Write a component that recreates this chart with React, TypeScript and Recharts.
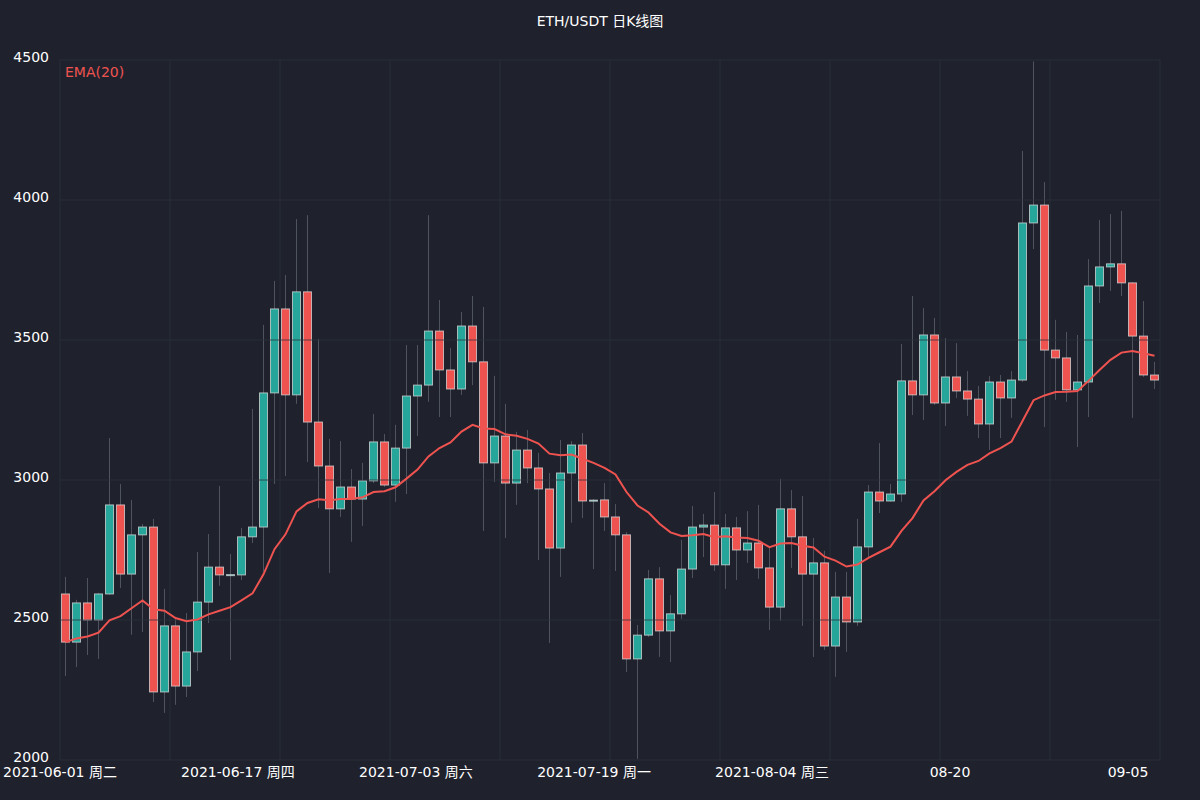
import { Bar, ComposedChart, Line, ReferenceLine, XAxis, YAxis } from 'recharts';

// daily candles
const OPEN = [
  2593, 2421, 2561, 2500, 2593, 2911, 2664, 2804, 2832, 2243,
  2479, 2264, 2386, 2564, 2689, 2661, 2661, 2797, 2832, 3311,
  3611, 3304, 3672, 3207, 3050, 2897, 2975, 2932, 2997, 3136,
  2982, 3114, 3300, 3339, 3532, 3393, 3325, 3550, 3422, 3061,
  3157, 2989, 3107, 3043, 2968, 2757, 3025, 3125, 2925, 2929,
  2868, 2804, 2361, 2446, 2647, 2461, 2522, 2682, 2832, 2839,
  2697, 2829, 2750, 2775, 2686, 2546, 2897, 2797, 2664, 2704,
  2407, 2582, 2493, 2761, 2957, 2925, 2950, 3354, 3304, 3518,
  3275, 3368, 3318, 3289, 3200, 3350, 3293, 3357, 3918, 3982,
  3464, 3436, 3322, 3350, 3693, 3761, 3772, 3704, 3514, 3375,
];
const HIGH = [
  2654, 2572, 2650, 2597, 3150, 2986, 2929, 2843, 2861, 2611,
  2511, 2525, 2743, 2807, 2979, 2736, 2829, 3254, 3554, 3711,
  3732, 3932, 3946, 3504, 3147, 3139, 3039, 3061, 3236, 3164,
  3197, 3482, 3482, 3946, 3643, 3472, 3600, 3657, 3618, 3372,
  3272, 3172, 3179, 3097, 3025, 3143, 3139, 3168, 2932, 2989,
  2914, 2814, 2482, 2679, 2689, 2589, 2786, 2907, 2879, 2957,
  2879, 2868, 2889, 2911, 2757, 3004, 2964, 2943, 2793, 2747,
  2672, 2672, 2861, 2982, 3132, 2986, 3486, 3657, 3614, 3579,
  3507, 3489, 3389, 3336, 3371, 3375, 3389, 4175, 4495, 4064,
  3572, 3529, 3518, 3789, 3929, 3950, 3961, 3706, 3639, 3422,
];
const LOW = [
  2300, 2332, 2375, 2361, 2590, 2614, 2447, 2457, 2207, 2168,
  2197, 2225, 2318, 2489, 2622, 2357, 2643, 2775, 2672, 2986,
  3014, 3272, 3064, 2900, 2668, 2868, 2779, 2836, 2989, 2975,
  2922, 2950, 3157, 3279, 3225, 3225, 3304, 3339, 2818, 2993,
  2793, 2911, 2989, 2714, 2418, 2654, 2847, 2864, 2682, 2818,
  2675, 2314, 2004, 2439, 2368, 2350, 2504, 2650, 2725, 2675,
  2611, 2643, 2704, 2647, 2464, 2497, 2686, 2479, 2368, 2393,
  2297, 2386, 2479, 2725, 2882, 2922, 2922, 3232, 3214, 3268,
  3193, 3293, 3229, 3150, 3107, 3150, 3222, 3350, 3825, 3189,
  3286, 3279, 3118, 3225, 3632, 3675, 3657, 3222, 3368, 3325,
];
const CLOSE = [
  2421, 2561, 2500, 2593, 2911, 2664, 2804, 2832, 2243, 2479,
  2264, 2386, 2564, 2689, 2661, 2662, 2797, 2832, 3311, 3611,
  3304, 3672, 3207, 3050, 2897, 2975, 2932, 2997, 3136, 2982,
  3114, 3300, 3339, 3532, 3393, 3325, 3550, 3422, 3061, 3157,
  2989, 3107, 3043, 2968, 2757, 3025, 3125, 2925, 2928, 2868,
  2804, 2361, 2446, 2647, 2461, 2522, 2682, 2832, 2839, 2697,
  2829, 2750, 2775, 2686, 2546, 2897, 2797, 2664, 2704, 2407,
  2582, 2493, 2761, 2957, 2925, 2950, 3354, 3304, 3518, 3275,
  3368, 3318, 3289, 3200, 3350, 3293, 3357, 3918, 3982, 3464,
  3436, 3322, 3350, 3693, 3761, 3772, 3704, 3514, 3375, 3357,
];
// EMA(20) line as it appears on the chart
const EMA20 = [
  2421, 2434, 2441, 2455, 2499, 2514, 2542, 2570, 2538, 2533,
  2507, 2496, 2502, 2520, 2533, 2546, 2570, 2595, 2663, 2753,
  2806, 2888, 2918, 2931, 2928, 2932, 2932, 2938, 2957, 2960,
  2974, 3005, 3037, 3084, 3114, 3134, 3173, 3197, 3184, 3182,
  3163, 3158, 3147, 3130, 3094, 3088, 3091, 3076, 3061, 3043,
  3020, 2957, 2909, 2884, 2844, 2813, 2800, 2803, 2807, 2796,
  2799, 2795, 2793, 2783, 2760, 2773, 2775, 2765, 2759, 2726,
  2712, 2691, 2698, 2722, 2742, 2762, 2818, 2864, 2927, 2960,
  2999, 3029, 3054, 3068, 3095, 3114, 3137, 3211, 3285, 3302,
  3314, 3315, 3318, 3354, 3393, 3429, 3455, 3461, 3453, 3444,
];

const Y_TICKS = [2000, 2500, 3000, 3500, 4000, 4500];
const X_TICK_LABELS = [
  '2021-06-01 周二',
  '2021-06-17 周四',
  '2021-07-03 周六',
  '2021-07-19 周一',
  '2021-08-04 周三',
  '08-20',
  '09-05',
];
const X_TICK_POS = [-0.5, 15.68, 31.86, 48.05, 64.23, 80.41, 96.59];
const GRID_X = [-0.5, 9.5, 19.5, 29.5, 39.5, 49.5, 59.5, 69.5, 79.5, 89.5, 99.5];

const BG = '#1f222d';
const GRID = 'rgba(44,48,60,0.75)';
const UP = '#26a69a';
const DOWN = '#ef5350';
const WICK = '#4f535e';
const FONT = "'DejaVu Sans', 'Noto Sans CJK SC', sans-serif";

const data = OPEN.map((open, i) => ({
  i,
  open,
  high: HIGH[i],
  low: LOW[i],
  close: CLOSE[i],
  ema: EMA20[i],
  range: [LOW[i], HIGH[i]],
}));

// eslint-disable-next-line @typescript-eslint/no-explicit-any
function Candle(props: any) {
  const { x, y, width, height, payload } = props;
  if (!payload) return null;
  const { open, close, high, low } = payload;
  const top0 = Math.min(y, y + height);
  const h = Math.abs(height);
  const span = high - low || 1;
  const toY = (v: number) => top0 + ((high - v) / span) * h;
  const cx = x + width / 2;
  const bodyTop = toY(Math.max(open, close));
  const bodyBottom = toY(Math.min(open, close));
  const up = close >= open;
  return (
    <g>
      <line x1={cx} x2={cx} y1={top0} y2={top0 + h} stroke={WICK} strokeWidth={1} />
      <rect
        x={x + 1.5}
        y={bodyTop}
        width={width - 3}
        height={Math.max(bodyBottom - bodyTop, 1)}
        fill={up ? UP : DOWN}
        stroke="rgba(225,225,225,0.7)"
        strokeWidth={1}
      />
    </g>
  );
}

// eslint-disable-next-line @typescript-eslint/no-explicit-any
function YTick({ y, payload }: any) {
  return (
    <text x={49} y={y - 3} textAnchor="end" dominantBaseline="central" fill="#ffffff" fontSize={14} fontFamily={FONT}>
      {payload.value}
    </text>
  );
}

// eslint-disable-next-line @typescript-eslint/no-explicit-any
function XTick({ x, payload, index }: any) {
  return (
    <text x={x} y={772} textAnchor="middle" dominantBaseline="central" fill="#ffffff" fontSize={14} fontFamily={FONT}>
      {X_TICK_LABELS[index] ?? payload.value}
    </text>
  );
}

export default function App() {
  return (
    <div style={{ position: 'absolute', left: 0, top: 0, width: 1200, height: 800, background: BG, fontFamily: FONT }}>
      <div style={{ position: 'absolute', top: 12, left: 0, width: 1200, textAlign: 'center', color: '#ffffff', fontSize: 14, lineHeight: '18px' }}>
        ETH/USDT 日K线图
      </div>
      <ComposedChart
        width={1200}
        height={800}
        data={data}
        margin={{ top: 60, right: 40, bottom: 10, left: 0 }}
        barCategoryGap={0}
        barGap={0}
      >
        <XAxis dataKey="i" type="category" hide height={0} />
        <XAxis
          xAxisId="t"
          dataKey="i"
          type="number"
          domain={[-0.5, 99.5]}
          ticks={X_TICK_POS}
          tick={<XTick />}
          tickLine={false}
          axisLine={false}
          height={30}
          allowDataOverflow
          interval={0}
        />
        <YAxis
          type="number"
          domain={[2000, 4500]}
          ticks={Y_TICKS}
          width={60}
          axisLine={false}
          tickLine={false}
          tick={<YTick />}
          allowDataOverflow
        />
        {GRID_X.map((gx) => (
          <ReferenceLine key={`gx${gx}`} xAxisId="t" x={gx} stroke={GRID} strokeWidth={1} />
        ))}
        <Bar dataKey="range" shape={<Candle />} isAnimationActive={false} />
        {Y_TICKS.map((gy) => (
          <ReferenceLine key={`gy${gy}`} y={gy} stroke={GRID} strokeWidth={1} />
        ))}
        <Line
          dataKey="ema"
          type="linear"
          stroke={DOWN}
          strokeWidth={2}
          dot={false}
          activeDot={false}
          isAnimationActive={false}
        />
      </ComposedChart>
      <div style={{ position: 'absolute', top: 63, left: 65, color: DOWN, fontSize: 14, lineHeight: '18px' }}>
        EMA(20)
      </div>
    </div>
  );
}
